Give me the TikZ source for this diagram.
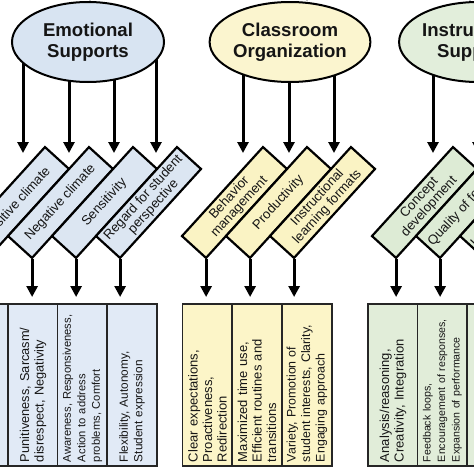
\documentclass[tikz,border=0pt]{standalone}
\usepackage{fontspec}
\setmainfont{Liberation Sans}
\usetikzlibrary{shapes.geometric,arrows.meta,backgrounds}
\definecolor{blueE}{HTML}{D8E4F2}
\definecolor{blueD}{HTML}{DCE6F2}
\definecolor{blueB}{HTML}{E1EAF6}
\definecolor{yelE}{HTML}{FBF5CF}
\definecolor{yelD}{HTML}{FAF3C4}
\definecolor{yelB}{HTML}{FCF5C8}
\definecolor{grnE}{HTML}{E2EEDB}
\definecolor{grnD}{HTML}{DDEBD5}
\definecolor{grnB}{HTML}{E1EDD9}
\definecolor{boxline}{HTML}{262626}
\definecolor{ink}{HTML}{151515}
\newcommand{\fsz}[1]{\fontsize{#1}{14.5}\selectfont}
\begin{document}
\begin{tikzpicture}[x=1pt,y=-1pt,
  domell/.style={ellipse, draw=black, line width=2pt, minimum width=152pt, minimum height=80pt, inner sep=0pt, align=center, text=ink, font=\bfseries\fontsize{18.6}{21}\selectfont},
  arr/.style={line width=3pt, -{Triangle[width=11pt,length=11pt]}},
  dimbox/.style={rectangle, draw=black, line width=2.2pt, rotate=47.7, minimum width=120.3pt, minimum height=32.5pt, inner xsep=2pt, inner ysep=0pt, align=center, text=ink, font=\fontsize{13.2}{13.5}\selectfont},
  indbox/.style={rectangle, draw=boxline, line width=1.4pt, rotate=90, minimum width=162pt, minimum height=50pt, inner xsep=4pt, inner ysep=0pt, text width=154pt, align=left, text=ink},
]
\useasboundingbox (0,0) rectangle (474,474);
\clip (0,0) rectangle (474,474);

% domains
\node[domell, fill=blueE] (e1) at (88,42) {Emotional\\Supports};
\node[domell, fill=yelE] (e2) at (290,42) {Classroom\\Organization};
\node[domell, fill=grnE] (e3) at (478,42) {Instructional\\Supports};

% dimensions
\node[dimbox, fill=blueD] (d11) at (16.5,202.5) {Positive climate};
\node[dimbox, fill=blueD] (d12) at (60.5,202.5) {Negative climate};
\node[dimbox, fill=blueD] (d13) at (104.5,202.5) {Sensitivity};
\node[dimbox, fill=blueD] (d14) at (148.5,202.5) {Regard for student\\perspective};
\node[dimbox, fill=yelD] (d21) at (234.5,202.5) {Behavior\\management};
\node[dimbox, fill=yelD] (d22) at (278.5,202.5) {Productivity};
\node[dimbox, fill=yelD] (d23) at (322.5,202.5) {Instructional\\learning formats};
\node[dimbox, fill=grnD] (d31) at (424.5,202.5) {Concept\\development};
\node[dimbox, fill=grnD] (d32) at (468.5,202.5) {Quality of feedback};
\node[dimbox, fill=grnD] (d33) at (512.5,202.5) {Language modeling};

% indicators
\node[indbox, fill=blueB] (b11) at (-17,385) {};
\node[indbox, fill=blueB, font={\fsz{12.8}}] (b12) at (33,385) {Punitiveness, Sarcasm/\\disrespect, Negativity};
\node[indbox, fill=blueB, font={\fsz{11.2}}] (b13) at (82.5,385) {Awareness, Responsiveness,\\Action to address\\problems, Comfort};
\node[indbox, fill=blueB, font={\fsz{11.8}}] (b14) at (132,385) {Flexibility, Autonomy,\\Student expression};
\node[indbox, fill=yelB, font={\fsz{13}}] (b21) at (207.5,385) {Clear expectations,\\Proactiveness,\\Redirection};
\node[indbox, fill=yelB, font={\fsz{13}}] (b22) at (257,385) {Maximized time use,\\Efficient routines and\\transitions};
\node[indbox, fill=yelB, font={\fsz{12.4}}] (b23) at (307,385) {Variety, Promotion of\\student interests, Clarity,\\Engaging approach};
\node[indbox, fill=grnB, font={\fsz{13}}] (b31) at (393,385) {Analysis/reasoning,\\Creativity, Integration};
\node[indbox, fill=grnB, font={\fsz{10.6}}] (b32) at (442.5,385) {Feedback loops,\\Encouragement of responses,\\Expansion of performance};
\node[indbox, fill=grnB] (b33) at (492,385) {};

% arrows dimensions -> indicators
\coordinate (lowtip) at (0,297);
\foreach \d in {d11,d12,d13,d14,d21,d22,d23,d31,d32,d33}
  \draw[arr] (\d.south west) -- (\d.south west |- lowtip);

% arrow tips below domains
\coordinate (t11) at (23,153);
\coordinate (t12) at (69,153);
\coordinate (t13) at (114,153);
\coordinate (t14) at (156,153);
\coordinate (t21) at (243,153);
\coordinate (t22) at (289,153);
\coordinate (t23) at (334,153);
\coordinate (t31) at (433,153);
\coordinate (t32) at (478,153);
\coordinate (t33) at (523,153);
\coordinate (p1) at (90,-30);
\coordinate (p2) at (307,-30);
\coordinate (p3) at (470,-30);

\begin{scope}[on background layer]
  \clip (0,0) rectangle (474,474);
  \fill[white] (0,0) rectangle (474,474);
  \foreach \t in {t11,t12,t13,t14} \draw[arr] (e1.center -| \t) -- (\t);
  \foreach \t in {t21,t22,t23} \draw[arr] (e2.center -| \t) -- (\t);
  \foreach \t in {t31,t32,t33} \draw[arr] (e3.center -| \t) -- (\t);
  \draw[arr] (p1) -- (e1.north -| p1);
  \draw[arr] (p2) -- (e2.north -| p2);
  \draw[arr] (p3) -- (e3.north -| p3);
\end{scope}
\end{tikzpicture}
\end{document}
